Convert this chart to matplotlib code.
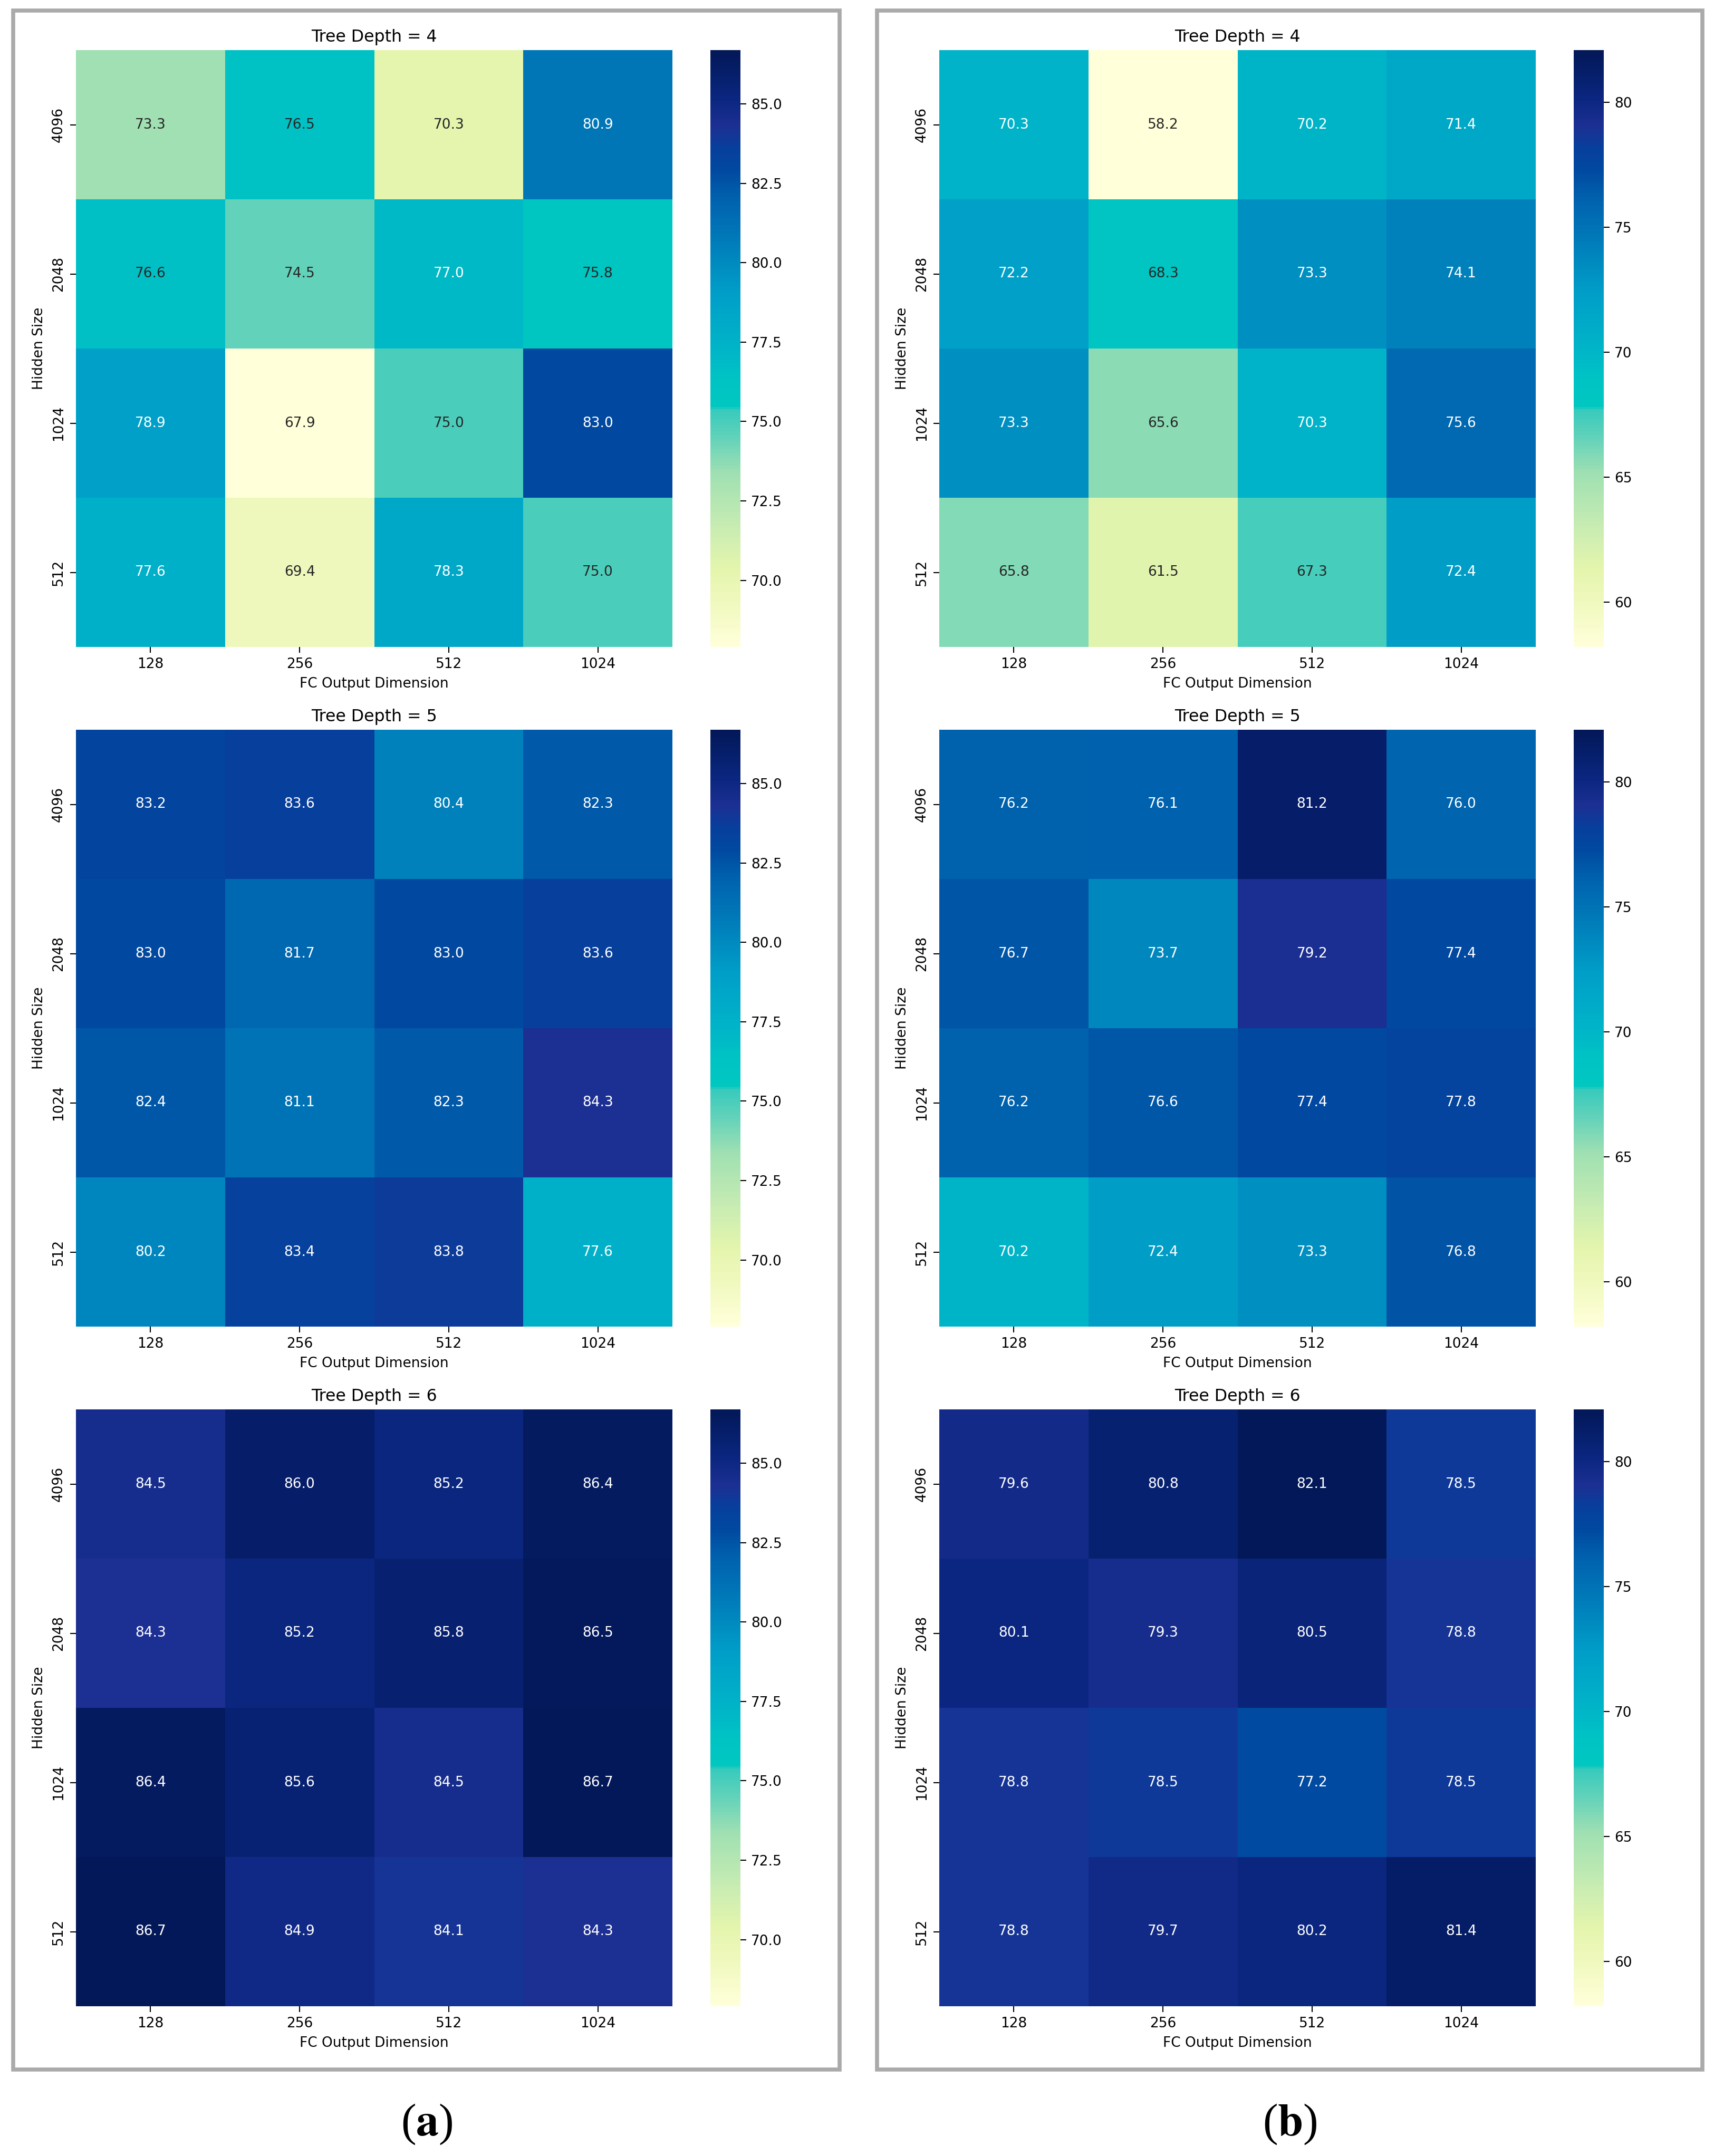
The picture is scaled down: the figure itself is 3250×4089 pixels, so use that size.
import numpy as np
import matplotlib
matplotlib.use('Agg')
import matplotlib.pyplot as plt
from matplotlib.colors import LinearSegmentedColormap
from matplotlib.patches import Rectangle
import seaborn as sns

plt.rcParams['font.size'] = 19
plt.rcParams['axes.titlepad'] = 11.4
plt.rcParams['axes.labelpad'] = 7.6
plt.rcParams['xtick.major.pad'] = 6.6
plt.rcParams['ytick.major.pad'] = 6.6
plt.rcParams['xtick.major.size'] = 8
plt.rcParams['ytick.major.size'] = 8
plt.rcParams['xtick.major.width'] = 1.5
plt.rcParams['ytick.major.width'] = 1.5
plt.rcParams['mathtext.fontset'] = 'stix'

fc_dims = ['128', '256', '512', '1024']
hidden_sizes = ['4096', '2048', '1024', '512']
depths = [4, 5, 6]

# panel (a), rows = hidden size 4096..512, cols = fc dim 128..1024
a_depth4 = [[73.3, 76.5, 70.3, 80.9],
            [76.6, 74.5, 77.0, 75.8],
            [78.9, 67.9, 75.0, 83.0],
            [77.6, 69.4, 78.3, 75.0]]
a_depth5 = [[83.2, 83.6, 80.4, 82.3],
            [83.0, 81.7, 83.0, 83.6],
            [82.4, 81.1, 82.3, 84.3],
            [80.2, 83.4, 83.8, 77.6]]
a_depth6 = [[84.5, 86.0, 85.2, 86.4],
            [84.3, 85.2, 85.8, 86.5],
            [86.4, 85.6, 84.5, 86.7],
            [86.7, 84.9, 84.1, 84.3]]

# panel (b)
b_depth4 = [[70.3, 58.2, 70.2, 71.4],
            [72.2, 68.3, 73.3, 74.1],
            [73.3, 65.6, 70.3, 75.6],
            [65.8, 61.5, 67.3, 72.4]]
b_depth5 = [[76.2, 76.1, 81.2, 76.0],
            [76.7, 73.7, 79.2, 77.4],
            [76.2, 76.6, 77.4, 77.8],
            [70.2, 72.4, 73.3, 76.8]]
b_depth6 = [[79.6, 80.8, 82.1, 78.5],
            [80.1, 79.3, 80.5, 78.8],
            [78.8, 78.5, 77.2, 78.5],
            [78.8, 79.7, 80.2, 81.4]]

panel_a = [a_depth4, a_depth5, a_depth6]
panel_b = [b_depth4, b_depth5, b_depth6]

cmap = LinearSegmentedColormap.from_list('ylgnbu_cyan', [
    (0.000, '#ffffd9'),
    (0.080, '#eef8bb'),
    (0.130, '#e4f5ad'),
    (0.200, '#c8ecb2'),
    (0.290, '#9fe0b2'),
    (0.350, '#62d2ba'),
    (0.399, '#35cabc'),
    (0.401, '#00c8c0'),
    (0.455, '#00c2c4'),
    (0.500, '#00b4c8'),
    (0.590, '#009fc8'),
    (0.640, '#008cc0'),
    (0.700, '#0074b6'),
    (0.750, '#0062ae'),
    (0.800, '#0049a0'),
    (0.840, '#083e9c'),
    (0.875, '#1c2f92'),
    (0.920, '#0a2680'),
    (1.000, '#031858'),
])

W, H = 3250, 4089
fig = plt.figure(figsize=(W / 100, H / 100), dpi=100)


def px_axes(x0, y0, x1, y1):
    return fig.add_axes([x0 / W, 1 - y1 / H, (x1 - x0) / W, (y1 - y0) / H])


row_tops = [95, 1384, 2673]
cell_h = 1132
panel_dx = [0, 1637]

for pi, panel in enumerate([panel_a, panel_b]):
    dx = panel_dx[pi]
    vmin = min(min(min(r) for r in m) for m in panel)
    vmax = max(max(max(r) for r in m) for m in panel)
    for di, mat in enumerate(panel):
        top = row_tops[di]
        ax = px_axes(144 + dx, top, 1275 + dx, top + cell_h)
        cax = px_axes(1347 + dx, top, 1404 + dx, top + cell_h)
        sns.heatmap(np.array(mat), ax=ax, cbar_ax=cax, cmap=cmap,
                    vmin=vmin, vmax=vmax, annot=True, fmt='.1f',
                    xticklabels=fc_dims, yticklabels=hidden_sizes)
        ax.set_title('Tree Depth = %d' % depths[di])
        ax.set_xlabel('FC Output Dimension')
        ax.set_ylabel('Hidden Size')
        cax.tick_params(size=8, width=1.5)

# frames around each panel
for x0, x1 in [(25, 1592), (1663, 3228)]:
    fig.add_artist(Rectangle((x0 / W, 1 - 3925 / H), (x1 - x0) / W, 3905 / H,
                             transform=fig.transFigure, fill=False,
                             edgecolor='#aaaaaa', linewidth=5.5))

fig.text(809 / W, 1 - 4029 / H, r'($\mathbf{a}$)', ha='center', va='center',
         fontsize=62, family='Liberation Serif')
fig.text(2446 / W, 1 - 4029 / H, r'($\mathbf{b}$)', ha='center', va='center',
         fontsize=62, family='Liberation Serif')

fig.savefig('out.png', dpi=100)
